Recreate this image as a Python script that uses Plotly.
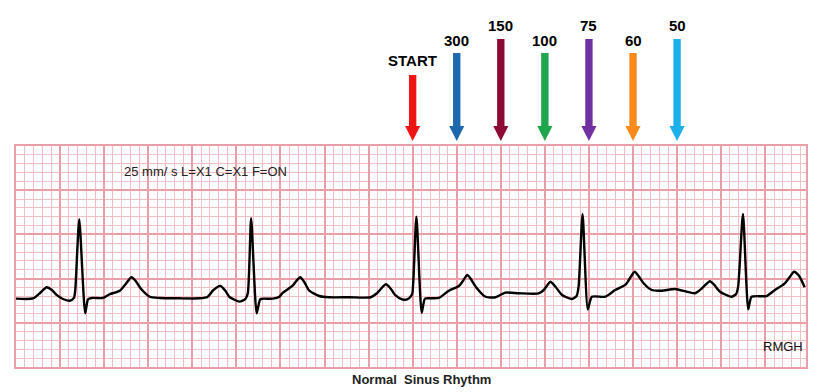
import plotly.graph_objects as go

# ECG trace read from the strip (time in s at 25 mm/s, amplitude in mV at 10 mm/mV)
ecg_time = [0.00, 0.077, 0.109, 0.139, 0.163, 0.184, 0.213, 0.244, 0.263, 0.269, 0.287,
            0.314, 0.327, 0.344, 0.394, 0.425, 0.471, 0.498, 0.524, 0.543, 0.569, 0.607,
            0.652, 0.742, 0.833, 0.869, 0.896, 0.928, 0.951, 0.969, 1.014, 1.041, 1.052,
            1.067, 1.092, 1.108, 1.123, 1.165, 1.195, 1.209, 1.254, 1.272, 1.290, 1.308,
            1.331, 1.376, 1.421, 1.512, 1.610, 1.639, 1.678, 1.698, 1.720, 1.752, 1.775,
            1.793, 1.799, 1.817, 1.841, 1.856, 1.883, 1.919, 1.964, 2.010, 2.028, 2.048,
            2.064, 2.086, 2.131, 2.176, 2.221, 2.282, 2.372, 2.395, 2.425, 2.449, 2.478,
            2.523, 2.544, 2.553, 2.571, 2.595, 2.613, 2.674, 2.719, 2.765, 2.784, 2.807,
            2.825, 2.848, 2.885, 2.930, 2.991, 3.081, 3.114, 3.149, 3.169, 3.195, 3.247,
            3.268, 3.277, 3.299, 3.323, 3.338, 3.406, 3.444, 3.489, 3.508, 3.531, 3.554,
            3.579]
ecg_mv = [-0.027, -0.025, 0.037, 0.102, 0.071, 0.015, -0.031, -0.050, -0.019, 0.071, 0.871,
          -0.192, -0.034, -0.019, -0.019, 0.023, 0.063, 0.139, 0.215, 0.173, 0.079, -0.005,
          -0.019, -0.023, -0.023, -0.008, 0.071, 0.117, 0.060, -0.008, -0.061, -0.031, 0.034,
          0.882, -0.192, -0.034, -0.027, -0.027, -0.005, 0.037, 0.117, 0.173, 0.215, 0.162,
          0.063, 0.003, -0.011, -0.011, -0.011, 0.037, 0.136, 0.094, 0.015, -0.034, -0.036,
          0.003, 0.037, 0.900, -0.186, -0.027, -0.023, -0.019, 0.063, 0.117, 0.173, 0.241,
          0.196, 0.109, -0.005, -0.011, 0.041, 0.034, 0.032, 0.071, 0.165, 0.105, 0.015,
          -0.031, 0.003, 0.109, 0.931, -0.147, -0.005, -0.005, 0.071, 0.128, 0.196, 0.278,
          0.230, 0.147, 0.071, 0.063, 0.083, 0.034, 0.094, 0.170, 0.128, 0.052, -0.005,
          0.026, 0.109, 0.931, -0.147, -0.005, 0.003, 0.071, 0.147, 0.207, 0.278, 0.230,
          0.102]

# Rate-counting arrows (one per large square after START)
arrow_labels = ["START", "300", "150", "100", "75", "60", "50"]
arrow_times = [1.8, 2.0, 2.2, 2.4, 2.6, 2.8, 3.0]
arrow_colors = ["#f01515", "#1f68b0", "#8c0a34", "#1ea64c", "#7032a0", "#ff8a1c", "#1cb0ea"]
arrow_tiers = [0, 1, 2, 1, 2, 1, 2]

T_MAX = 3.585
V_MIN, V_MAX = -0.8, 1.7

W, H = 818, 392
ML, MR, MT, MB = 16, 10, 146, 25
PW = W - ML - MR
PH = H - MT - MB

MAJOR = "rgb(236,158,168)"
MINOR = "rgb(244,190,197)"

fig = go.Figure()
fig.add_trace(go.Scatter(
    x=ecg_time, y=ecg_mv, mode="lines",
    line=dict(color="black", width=2.4, shape="spline", smoothing=0.6),
    hoverinfo="skip", showlegend=False))

fig.update_xaxes(range=[0, T_MAX], tick0=0, dtick=0.2, showgrid=True, gridcolor=MAJOR,
                 gridwidth=1.6, showticklabels=False, ticks="", zeroline=False,
                 showline=True, linecolor=MAJOR, linewidth=1.6, mirror=True,
                 minor=dict(tick0=0, dtick=0.04, showgrid=True, gridcolor=MINOR, gridwidth=1, ticks=""))
fig.update_yaxes(range=[V_MIN, V_MAX], tick0=V_MIN, dtick=0.5, showgrid=True, gridcolor=MAJOR,
                 gridwidth=1.6, showticklabels=False, ticks="", zeroline=False,
                 showline=True, linecolor=MAJOR, linewidth=1.6, mirror=True,
                 minor=dict(tick0=V_MIN, dtick=0.1, showgrid=True, gridcolor=MINOR, gridwidth=1, ticks=""))


def py2paper(py):
    return (H - MB - py) / PH


def t2paper(t):
    return t / T_MAX


shaft_top_px = [75, 53, 39]
label_px = [60, 41, 26]
head_base_px = 126
tip_px = 141
shaft_half = 3.7 / PW
head_half = 7.6 / PW

shapes = []
annotations = []
for lab, t, col, tier in zip(arrow_labels, arrow_times, arrow_colors, arrow_tiers):
    xc = t2paper(t)
    shapes.append(dict(type="rect", xref="paper", yref="paper",
                       x0=xc - shaft_half, x1=xc + shaft_half,
                       y0=py2paper(head_base_px + 1), y1=py2paper(shaft_top_px[tier]),
                       fillcolor=col, line=dict(width=0)))
    path = "M {:.5f},{:.5f} L {:.5f},{:.5f} L {:.5f},{:.5f} Z".format(
        xc - head_half, py2paper(head_base_px), xc + head_half, py2paper(head_base_px),
        xc, py2paper(tip_px))
    shapes.append(dict(type="path", xref="paper", yref="paper", path=path,
                       fillcolor=col, line=dict(width=0)))
    annotations.append(dict(text="<b>" + lab + "</b>", xref="paper", yref="paper", x=xc,
                            y=py2paper(label_px[tier]), xanchor="center", yanchor="middle",
                            showarrow=False,
                            font=dict(family="Arial, Liberation Sans", size=15, color="black")))

annotations.append(dict(text="25 mm/ s L=X1 C=X1 F=ON", xref="x", yref="y", x=0.48, y=1.406,
                        xanchor="left", yanchor="middle", showarrow=False,
                        font=dict(family="Arial, Liberation Sans", size=13, color="#222")))
annotations.append(dict(text="RMGH", xref="x", yref="y", x=3.48, y=-0.573,
                        xanchor="center", yanchor="middle", showarrow=False,
                        font=dict(family="Arial, Liberation Sans", size=13, color="#111")))
annotations.append(dict(text="<b>Normal  Sinus Rhythm</b>", xref="paper", yref="paper",
                        x=(423 - ML) / PW, y=py2paper(379), xanchor="center", yanchor="middle",
                        showarrow=False,
                        font=dict(family="Arial, Liberation Sans", size=13, color="#222")))

fig.update_layout(width=W, height=H, margin=dict(l=ML, r=MR, t=MT, b=MB, pad=0),
                  paper_bgcolor="white", plot_bgcolor="white",
                  shapes=shapes, annotations=annotations, showlegend=False)

fig.write_html("out.html", config={"displayModeBar": False},
               post_script="document.body.style.margin='0';document.body.style.overflow='hidden';")
